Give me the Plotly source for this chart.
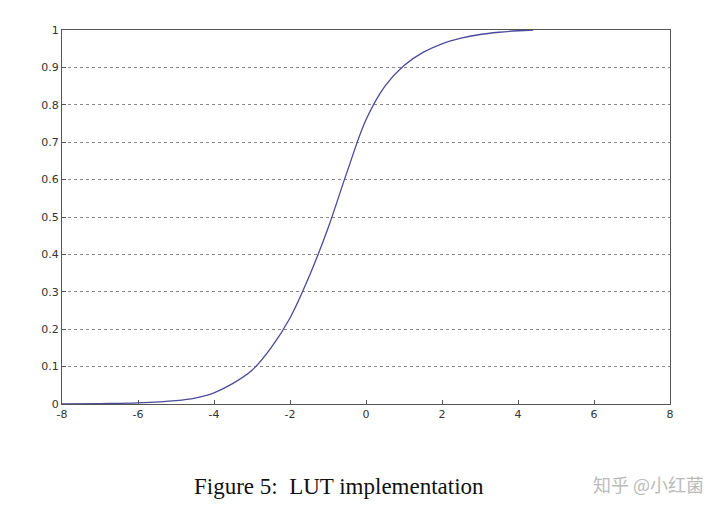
import plotly.graph_objects as go

x_vals = [-8, -7, -6, -5, -4.5, -4, -3.5, -3, -2.5, -2, -1.5, -1, -0.5, 0, 0.5, 1, 1.5, 2, 2.5, 3, 3.5, 4, 4.4]
y_vals = [0.0, 0.001, 0.003, 0.009, 0.016, 0.03, 0.055, 0.09, 0.15, 0.23, 0.34, 0.47, 0.62, 0.76, 0.85, 0.905, 0.94, 0.963, 0.978, 0.988, 0.994, 0.998, 1.0]
x_ticks = [-8, -6, -4, -2, 0, 2, 4, 6, 8]
y_ticks = [0, 0.1, 0.2, 0.3, 0.4, 0.5, 0.6, 0.7, 0.8, 0.9, 1]

fig = go.Figure(go.Scatter(x=x_vals, y=y_vals, mode="lines", line=dict(color="#4a4a9a", width=1.3, shape="spline")))
ax = dict(showline=True, mirror=True, linecolor="#555", linewidth=1, ticks="inside", ticklen=4,
          tickcolor="#555", zeroline=False, tickfont=dict(family="DejaVu Sans", size=11, color="#333"))
fig.update_xaxes(range=[-8, 8], tickvals=x_ticks, ticktext=[str(v) for v in x_ticks], showgrid=False, **ax)
fig.update_yaxes(range=[0, 1], tickvals=y_ticks, ticktext=[str(v) for v in y_ticks], showgrid=True,
                 gridcolor="#888", griddash="dot", gridwidth=1, **ax)
fig.update_layout(width=720, height=516, margin=dict(l=54, r=58, t=22, b=120), showlegend=False,
                  plot_bgcolor="white", paper_bgcolor="white",
                  annotations=[
                      dict(text="Figure 5:  LUT implementation", x=0.455, y=-0.26, xref="paper", yref="paper",
                           showarrow=False, font=dict(family="Liberation Serif", size=23, color="#111")),
                      dict(text="知乎 @小红菌", x=1.06, y=-0.255, xref="paper", yref="paper", xanchor="right",
                           showarrow=False, font=dict(family="Noto Sans CJK SC", size=18, color="#bbb")),
                  ])
fig.write_html("out.html")
